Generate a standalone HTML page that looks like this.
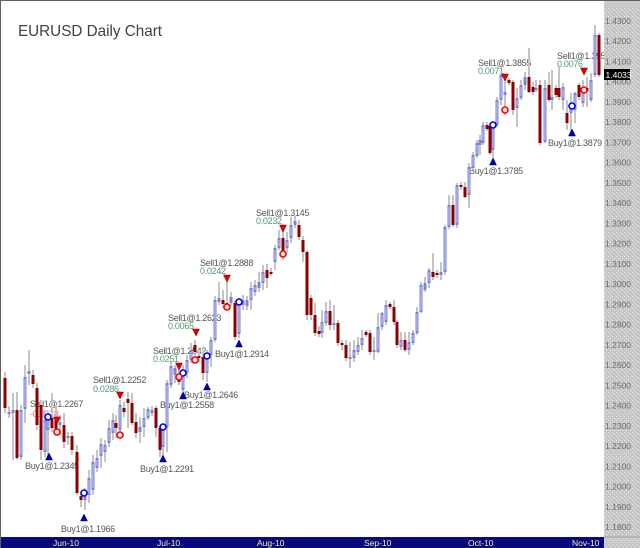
<!DOCTYPE html>
<html><head><meta charset="utf-8"><style>
html,body{margin:0;padding:0;background:#fff;}
svg{display:block;}
text{font-family:"Liberation Sans",Arial,sans-serif;}
.lb{font-size:9px;fill:#555;letter-spacing:-0.3px;}
.pg{font-size:9px;fill:#4f9a70;letter-spacing:-0.3px;}
.pr{font-size:9px;fill:#ff6060;letter-spacing:-0.3px;}
.ax{font-size:8.5px;fill:#6a6a6a;}
.mo{font-size:8.5px;fill:#f0f0b0;}
</style></head><body>
<svg width="640" height="548" viewBox="0 0 640 548" xmlns="http://www.w3.org/2000/svg">
<defs>
<pattern id="gp" width="4" height="4" patternUnits="userSpaceOnUse"><rect width="4" height="4" fill="#c6c6c6"/><rect x="0" y="0" width="1" height="1" fill="#e6eee6"/><rect x="2" y="2" width="1" height="1" fill="#e6eee6"/></pattern>
<pattern id="bp" width="2" height="2" patternUnits="userSpaceOnUse"><rect width="2" height="2" fill="#0c0c8c"/><rect x="0" y="0" width="1" height="1" fill="#000050"/></pattern>
</defs>
<rect width="640" height="548" fill="#fff"/>

<text x="18" y="36" font-size="16" fill="#404040" textLength="144" lengthAdjust="spacingAndGlyphs">EURUSD Daily Chart</text>

<!-- trade labels -->
<text class="lb" x="30" y="407">Sell1@1.2267</text><text class="pr" x="30" y="417">-0.0078</text>
<text class="lb" x="25" y="469">Buy1@1.2345</text>
<text class="lb" x="61" y="532">Buy1@1.1966</text>
<text class="lb" x="93" y="383">Sell1@1.2252</text><text class="pg" x="93" y="392">0.0286</text>
<text class="lb" x="140" y="472">Buy1@1.2291</text>
<text class="lb" x="153" y="354">Sell1@1.2542</text><text class="pg" x="153" y="362">0.0251</text>
<text class="lb" x="160" y="408">Buy1@1.2558</text>
<text class="lb" x="184" y="398">Buy1@1.2646</text>
<text class="lb" x="168" y="321">Sell1@1.2623</text><text class="pg" x="168" y="329">0.0065</text>
<text class="lb" x="200" y="266">Sell1@1.2888</text><text class="pg" x="200" y="274">0.0242</text>
<text class="lb" x="215" y="357">Buy1@1.2914</text>
<text class="lb" x="256" y="216">Sell1@1.3145</text><text class="pg" x="256" y="224">0.0232</text>
<text class="lb" x="469" y="174">Buy1@1.3785</text>
<text class="lb" x="478" y="66">Sell1@1.3855</text><text class="pg" x="478" y="74">0.0071</text>
<text class="lb" x="548" y="146">Buy1@1.3879</text>
<text class="lb" x="557" y="59">Sell1@1.3955</text><text class="pg" x="557" y="67">0.0076</text>

<!-- wicks -->
<path fill="none" stroke="#c4c4c4" stroke-width="2" d="M5 372V413M9 406V418M13 393V460M17 392V460M21 405V460M25 365V423M29 350V385M33 370V388M37 383V430M41 400V460M45 410V457M48 412V455M52 393V432M56 405V436M60 415V435M64 413V448M68 432V445M72 432V455M77 445V495M81 492V507M85 488V510M89 470V503M93 455V495M97 450V472M101 438V468M105 440V462M109 420V447M113 413V440M116 415V438M120 400V437M124 402V417M128 392V428M132 393V425M136 413V438M140 417V443M144 408V437M148 407V420M152 406V416M156 406V437M160 426V457M163 425V455M167 380V452M171 362V388M175 365V383M179 366V385M183 365V393M187 355V378M191 343V363M195 340V360M199 352V362M203 350V380M207 350V382M211 337V367M215 296V342M219 282V305M223 290V308M227 282V310M231 292V306M235 300V340M239 298V338M243 295V310M247 296V310M251 282V310M255 280V296M259 272V292M263 265V290M267 264V288M271 268V276M275 245V270M279 230V250M283 230V260M287 232V253M291 217V243M295 216V228M299 220V240M303 236V262M307 250V320M311 295V320M315 303V336M319 326V337M322 310V338M326 302V326M330 300V330M334 305V330M338 320V346M342 340V350M346 340V361M350 342V368M354 340V362M358 337V355M362 330V350M366 330V337M370 330V355M374 337V360M378 313V353M382 312V330M386 300V325M390 302V309M394 300V325M397 320V348M401 332V350M405 332V352M409 332V355M413 330V345M417 307V335M421 282V313M425 277V292M429 268V288M433 253V280M437 270V278M441 262V280M445 225V275M449 195V229M453 195V227M457 183V228M461 182V190M465 182V198M469 163V208M473 152V170M477 140V158M480 135V155M483 122V145M487 122V131M490 123V155M493 122V158M497 97V127M501 73V105M505 80V115M509 78V85M513 80V115M517 88V127M521 80V100M525 72V90M529 48V93M533 82V95M536 80V92M540 80V145M545 80V143M549 72V102M552 70V110M556 85V98M559 65V100M563 83V110M567 100V130M571 93V132M575 92V123M579 83V100M583 80V107M587 77V107M591 73V102M595 25V77M599 33V77"/>

<!-- down bodies -->
<path fill="none" stroke="#8b0000" stroke-width="3" d="M5 378V408M17 410V458M33 375V384M37 388V425M41 405V450M52 418V428M56 420V432M64 425V442M72 436V450M77 452V493M81 496V500M116 423V428M124 408V412M128 399V403M132 403V423M136 422V433M156 408V428M160 428V450M179 375V382M195 345V352M199 356V358M203 357V373M223 300V304M227 303V308M235 303V337M267 270V278M271 272V274M283 238V255M299 225V237M303 240V252M307 252V315M311 298V315M315 315V333M319 331V334M330 311V325M338 323V343M342 343V345M346 345V358M366 332V335M370 333V352M390 304V307M394 307V322M397 322V345M405 340V350M433 272V277M437 273V275M453 205V225M461 185V187M465 187V197M487 125V129M490 126V153M509 80V83M513 82V110M529 77V92M533 87V92M540 85V143M549 85V100M556 88V95M559 88V97M567 113V123M579 85V97M587 88V91M599 35V75"/>

<!-- up bodies -->
<path id="ub" fill="none" stroke="#7c82d4" stroke-width="3" d="M9 412V414M13 410V413M21 410V457M25 377V409M29 371V374M45 420V452M48 417V430M60 422V425M68 436V438M85 493V500M89 478V495M93 462V490M97 458V468M101 444V456M105 445V452M109 428V443M113 420V433M120 405V430M140 427V432M144 418V427M148 409V418M152 410V413M163 427V447M167 383V427M171 366V385M175 368V375M183 372V390M187 360V373M191 350V360M207 355V373M211 340V355M215 300V340M219 298V302M231 297V303M239 300V334M243 300V305M247 300V306M251 288V300M255 285V292M259 282V288M263 272V283M275 248V262M279 238V248M287 240V248M291 225V238M295 221V225M322 322V333M326 311V323M334 323V325M350 357V359M354 350V358M358 345V352M362 338V345M374 350V352M378 327V352M382 313V327M386 305V322M401 340V347M409 342V350M413 333V343M417 312V333M421 285V312M425 283V290M429 270V283M441 272V275M445 227V272M449 205V227M457 185V225M469 167V195M473 155V168M477 143V156M480 140V145M483 125V143M493 126V150M497 100V125M501 75V100M505 92V95M517 98V108M521 85V98M525 77V85M536 88V90M545 88V142M552 97V100M563 87V100M571 103V113M575 93V110M583 88V103M591 80V100M595 35V75"/>
<path fill="none" stroke="#c6c9f2" stroke-width="1" d="M21 412V455M25 379V407M45 422V450M48 419V428M89 480V493M93 464V488M97 460V466M101 446V454M105 447V450M109 430V441M113 422V431M120 407V428M144 420V425M148 411V416M163 429V445M167 385V425M171 368V383M183 374V388M187 362V371M191 352V358M207 357V371M211 342V353M215 302V338M239 302V332M251 290V298M255 287V290M263 274V281M275 250V260M279 240V246M287 242V246M291 227V236M322 324V331M326 313V321M354 352V356M358 347V350M362 340V343M378 329V350M382 315V325M386 307V320M401 342V345M409 344V348M413 335V341M417 314V331M421 287V310M429 272V281M445 229V270M449 207V225M457 187V223M469 169V193M473 157V166M477 145V154M483 127V141M493 128V148M497 102V123M501 77V98M517 100V106M521 87V96M545 90V140M563 89V98M571 105V111M575 95V108M583 90V101M591 82V98M595 37V73"/>

<!-- buy markers -->
<g fill="#0000b4" stroke="#000060" stroke-width="0.5">
<polygon points="45.5,460 52.5,460 49,453"/>
<polygon points="80.5,521 87.5,521 84,514"/>
<polygon points="159.5,462 166.5,462 163,455"/>
<polygon points="179.5,399 186.5,399 183,392"/>
<polygon points="203.5,390 210.5,390 207,383"/>
<polygon points="235.5,347 242.5,347 239,340"/>
<polygon points="489.5,165 496.5,165 493,158"/>
<polygon points="568.5,136 575.5,136 572,129"/>
</g>
<g fill="#fff" stroke="#0000ff" stroke-width="1.6">
<circle cx="48" cy="417" r="3"/><circle cx="84" cy="493" r="3"/><circle cx="163" cy="427" r="3"/><circle cx="183" cy="373" r="3"/><circle cx="207" cy="356" r="3"/><circle cx="239" cy="302" r="3"/><circle cx="493" cy="125" r="3"/><circle cx="572" cy="106" r="3"/>
</g>
<!-- sell markers -->
<g fill="#e00000" stroke="#800000" stroke-width="0.5">
<polygon points="53.5,417 60.5,417 57,424"/>
<polygon points="116.5,392 123.5,392 120,399"/>
<polygon points="175.5,363 182.5,363 179,370"/>
<polygon points="192.5,329 199.5,329 196,336"/>
<polygon points="223.5,275 230.5,275 227,282"/>
<polygon points="279.5,225 286.5,225 283,232"/>
<polygon points="501.5,74 508.5,74 505,81"/>
<polygon points="580.5,68 587.5,68 584,75"/>
</g>
<g fill="#fff0f0" stroke="#ff0000" stroke-width="1.6">
<circle cx="57" cy="432" r="3"/><circle cx="120" cy="435" r="3"/><circle cx="179" cy="377" r="3"/><circle cx="195" cy="360" r="3"/><circle cx="227" cy="307" r="3"/><circle cx="283" cy="254" r="3"/><circle cx="505" cy="110" r="3"/><circle cx="584" cy="90" r="3"/>
</g>

<!-- right axis panel -->
<rect x="604" y="0" width="36" height="548" fill="url(#gp)"/>
<line x1="604" y1="537" x2="640" y2="537" stroke="#9a9a9a" stroke-width="1"/>
<g class="ax">
<text x="605" y="24">1.4300</text>
<text x="605" y="44.2">1.4200</text>
<text x="605" y="64.5">1.4100</text>
<text x="605" y="84.7">1.4000</text>
<text x="605" y="105">1.3900</text>
<text x="605" y="125.2">1.3800</text>
<text x="605" y="145.4">1.3700</text>
<text x="605" y="165.7">1.3600</text>
<text x="605" y="185.9">1.3500</text>
<text x="605" y="206.2">1.3400</text>
<text x="605" y="226.4">1.3300</text>
<text x="605" y="246.6">1.3200</text>
<text x="605" y="266.9">1.3100</text>
<text x="605" y="287.1">1.3000</text>
<text x="605" y="307.4">1.2900</text>
<text x="605" y="327.6">1.2800</text>
<text x="605" y="347.8">1.2700</text>
<text x="605" y="368.1">1.2600</text>
<text x="605" y="388.3">1.2500</text>
<text x="605" y="408.6">1.2400</text>
<text x="605" y="428.8">1.2300</text>
<text x="605" y="449">1.2200</text>
<text x="605" y="469.3">1.2100</text>
<text x="605" y="489.5">1.2000</text>
<text x="605" y="509.8">1.1900</text>
<text x="605" y="530">1.1800</text>
</g>
<rect x="604" y="69" width="26" height="11" fill="#000"/>
<text x="605.5" y="78" font-size="8.5" fill="#fff">1.4033</text>

<!-- bottom date bar -->
<rect x="0" y="537" width="604" height="11" fill="url(#bp)"/>
<g class="mo">
<text x="53" y="546">Jun-10</text>
<text x="157" y="546">Jul-10</text>
<text x="257" y="546">Aug-10</text>
<text x="364" y="546">Sep-10</text>
<text x="468" y="546">Oct-10</text>
<text x="572" y="546">Nov-10</text>
</g>

<!-- borders -->
<line x1="0" y1="0.5" x2="640" y2="0.5" stroke="#606060" stroke-width="1"/>
<line x1="0.5" y1="0" x2="0.5" y2="548" stroke="#606060" stroke-width="1"/>
</svg>
</body></html>
